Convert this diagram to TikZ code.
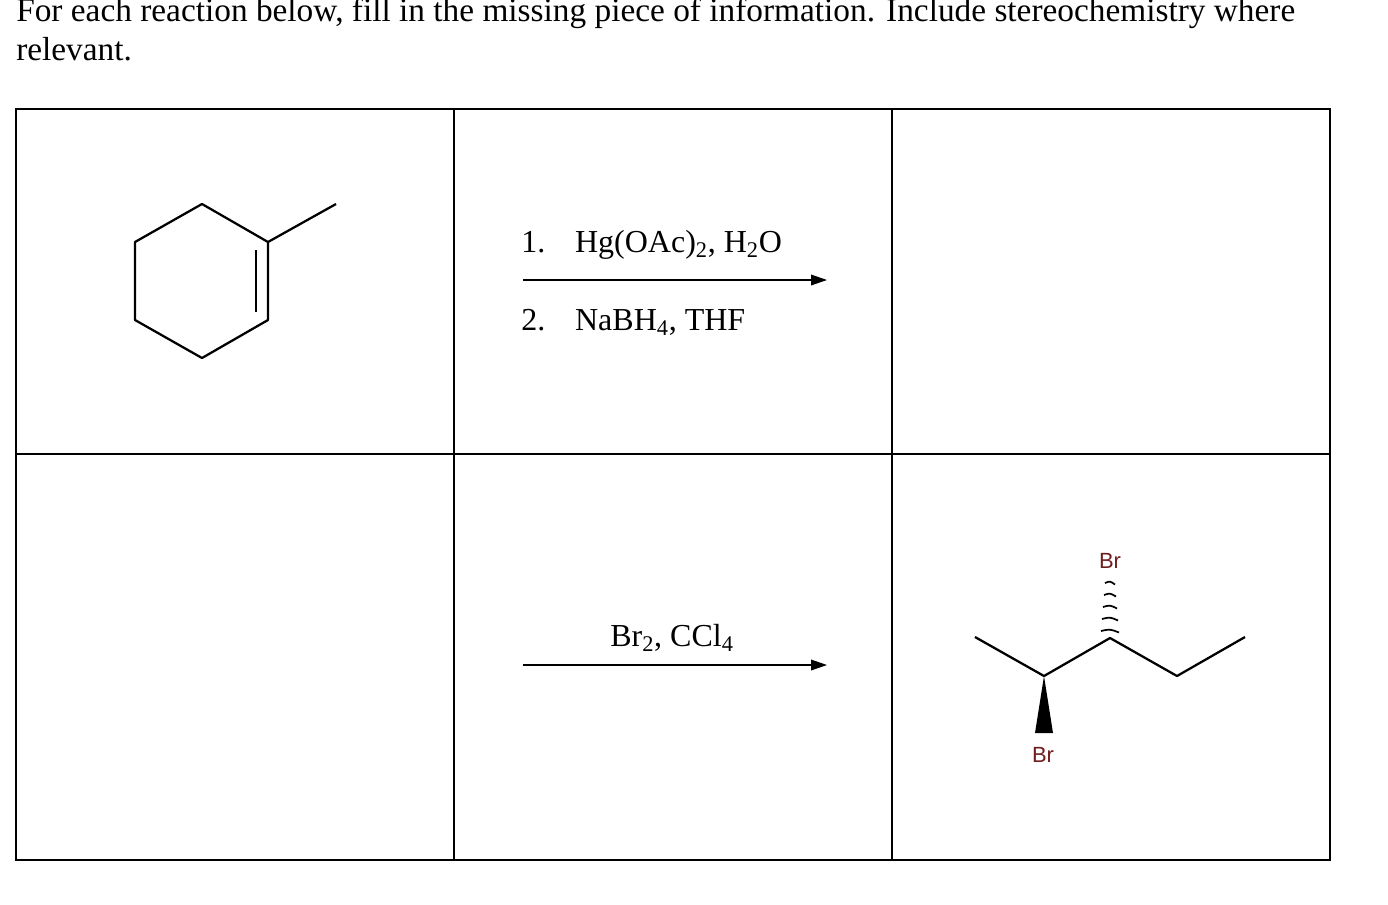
\documentclass[tikz,border=0pt]{standalone}
\usepackage{fontspec}
\usetikzlibrary{arrows.meta}
\setmainfont{Liberation Serif}
\newfontfamily\arial{Liberation Sans}
\definecolor{brc}{RGB}{110,30,30}
\begin{document}
\begin{tikzpicture}[x=0.75pt,y=-0.75pt,
  bond/.style={line width=1.7pt},
  rx/.style={font=\fontsize{24}{28}\selectfont,inner sep=0pt,anchor=west},
  brl/.style={font=\arial\fontsize{16.5}{18}\selectfont,text=brc,inner sep=1pt}]
\useasboundingbox (0,0) rectangle (1388,904);
\node[anchor=north west,align=left,inner sep=0pt,font=\fontsize{25}{29}\selectfont] (hdr) at (16,-2) {For each reaction below, fill in the missing piece of information. Include stereochemistry where\\relevant.};
\draw[line width=0.8pt] (16,109) rectangle (1330,860);
\draw[line width=0.8pt] (454,109) -- (454,860) (892,109) -- (892,860) (16,454) -- (1330,454);
% cyclohexene
\coordinate (a) at (202,204); \coordinate (b) at (268,242); \coordinate (c) at (268,320);
\coordinate (d) at (202,358); \coordinate (e) at (135,320); \coordinate (f) at (135,242);
\coordinate (m) at (336,204);
\draw[bond,line join=round] (a)--(b)--(c)--(d)--(e)--(f)--cycle (b)--(m);
\draw[bond] (256,250)--(256,312);
% arrow 1
\coordinate (a1s) at (523,280); \coordinate (a1e) at (827,280);
\draw[line width=1pt,-{Triangle[length=12pt,width=8pt]}] (a1s)--(a1e);
\node[rx] (r1) at (521,245) {1.\hspace{0.6em} Hg(OAc)\textsubscript{2}, H\textsubscript{2}O};
\node[rx] (r2) at (521,322) {2.\hspace{0.6em} NaBH\textsubscript{4}, THF};
% arrow 2
\coordinate (a2s) at (523,665); \coordinate (a2e) at (827,665);
\draw[line width=1pt,-{Triangle[length=12pt,width=8pt]}] (a2s)--(a2e);
\node[rx,anchor=center] (r3) at (672,638) {Br\textsubscript{2}, CCl\textsubscript{4}};
% dibromide
\coordinate (p1) at (975,637); \coordinate (p2) at (1044,676); \coordinate (p3) at (1110,638);
\coordinate (p4) at (1177,676); \coordinate (p5) at (1245,637);
\draw[bond,line join=round] (p1)--(p2)--(p3)--(p4)--(p5);
\fill (p2) -- (1053,733) -- (1035,733) -- cycle;
\node[brl] (br1) at (1043,755) {Br};
\node[brl] (br2) at (1110,561) {Br};
\foreach \y/\w in {583/5,595/6,607/7,619/8,631/9}
  \draw[line width=1.3pt] (1110-\w,\y) .. controls (1110,\y-2) .. (1110+\w,\y+1.5);
\end{tikzpicture}
\end{document}
